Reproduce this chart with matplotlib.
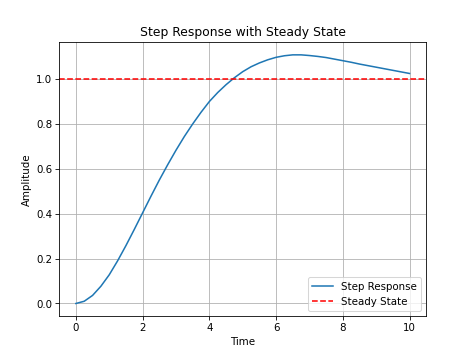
import matplotlib
matplotlib.use("Agg")
import matplotlib.pyplot as plt

time = [0, 0.25, 0.5, 0.75, 1, 1.25, 1.5, 1.75, 2, 2.25, 2.5, 2.75, 3, 3.25, 3.5, 3.75,
        4, 4.25, 4.5, 4.75, 5, 5.25, 5.5, 5.75, 6, 6.25, 6.5, 6.75, 7, 7.25, 7.5, 7.75,
        8, 8.25, 8.5, 8.75, 9, 9.25, 9.5, 9.75, 10]
response = [0, 0.01, 0.036, 0.077, 0.128, 0.19, 0.258, 0.33, 0.404, 0.478, 0.55, 0.618,
            0.683, 0.744, 0.80, 0.852, 0.90, 0.94, 0.975, 1.006, 1.033, 1.055, 1.072, 1.086,
            1.097, 1.104, 1.108, 1.108, 1.105, 1.101, 1.096, 1.089, 1.082, 1.075, 1.067,
            1.060, 1.053, 1.046, 1.039, 1.032, 1.025]
steady_state = 1.0

fig, ax = plt.subplots(figsize=(6.4, 4.8), dpi=74)
ax.plot(time, response, label="Step Response")
ax.axhline(steady_state, color="r", linestyle="--", label="Steady State")
ax.set_title("Step Response with Steady State")
ax.set_xlabel("Time")
ax.set_ylabel("Amplitude")
ax.grid(True)
ax.legend(loc="lower right")
fig.savefig("out.png", dpi=74)
